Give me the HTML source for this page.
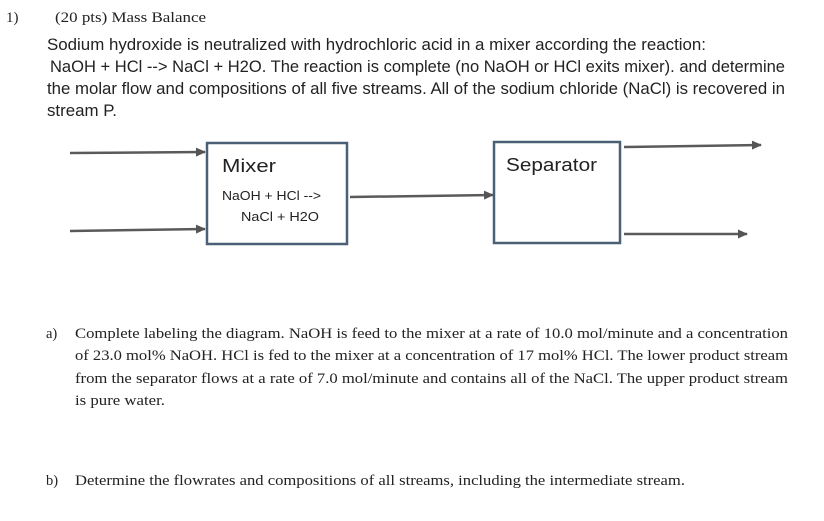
<!DOCTYPE html>
<html><head><meta charset="utf-8"><style>html,body{margin:0;padding:0;background:#fff}svg{display:block}</style></head><body>
<svg width="824" height="521" viewBox="0 0 824 521" xmlns="http://www.w3.org/2000/svg">
<defs><marker id="a" markerWidth="10" markerHeight="10" refX="9" refY="5" orient="auto" markerUnits="userSpaceOnUse"><path d="M0,0.5 L10,5 L0,9.5 z" fill="#555"/></marker></defs>
<g font-family="Liberation Serif, serif" font-size="15" fill="#222">
<text x="6" y="22">1)</text>
<text x="55" y="22" textLength="151" lengthAdjust="spacingAndGlyphs">(20 pts) Mass Balance</text>
</g>
<g font-family="Liberation Sans, sans-serif" font-size="16.5" fill="#222">
<text x="47" y="50" textLength="659" lengthAdjust="spacingAndGlyphs">Sodium hydroxide is neutralized with hydrochloric acid in a mixer according the reaction:</text>
<text x="50" y="72" textLength="735" lengthAdjust="spacingAndGlyphs">NaOH + HCl --&gt; NaCl + H2O. The reaction is complete (no NaOH or HCl exits mixer). and determine</text>
<text x="47" y="94" textLength="738" lengthAdjust="spacingAndGlyphs">the molar flow and compositions of all five streams. All of the sodium chloride (NaCl) is recovered in</text>
<text x="47" y="116" textLength="70" lengthAdjust="spacingAndGlyphs">stream P.</text>
</g>
<g stroke="#5a5a5a" stroke-width="2.5" fill="none">
<line x1="70" y1="153" x2="205" y2="152" marker-end="url(#a)"/>
<line x1="70" y1="231" x2="205" y2="229" marker-end="url(#a)"/>
<line x1="350" y1="197" x2="493" y2="195" marker-end="url(#a)"/>
<line x1="624" y1="147" x2="761" y2="145" marker-end="url(#a)"/>
<line x1="624" y1="234" x2="747" y2="234" marker-end="url(#a)"/>
</g>
<rect x="207" y="143" width="140" height="101" fill="#fff" stroke="#4a6076" stroke-width="2.5"/>
<rect x="494" y="142" width="126" height="101" fill="#fff" stroke="#4a6076" stroke-width="2.5"/>
<g font-family="Liberation Sans, sans-serif" fill="#222">
<text x="222" y="172" font-size="18" textLength="54" lengthAdjust="spacingAndGlyphs">Mixer</text>
<text x="222" y="200" font-size="12.5" textLength="99" lengthAdjust="spacingAndGlyphs">NaOH + HCl --&gt;</text>
<text x="241" y="221" font-size="12.5" textLength="78" lengthAdjust="spacingAndGlyphs">NaCl + H2O</text>
<text x="506" y="171" font-size="18" textLength="91" lengthAdjust="spacingAndGlyphs">Separator</text>
</g>
<g font-family="Liberation Serif, serif" font-size="14.5" fill="#222">
<text x="46" y="338">a)</text>
<text x="75" y="338" textLength="713" lengthAdjust="spacingAndGlyphs">Complete labeling the diagram. NaOH is feed to the mixer at a rate of 10.0 mol/minute and a concentration</text>
<text x="75" y="360" textLength="713" lengthAdjust="spacingAndGlyphs">of 23.0 mol% NaOH. HCl is fed to the mixer at a concentration of 17 mol% HCl. The lower product stream</text>
<text x="75" y="383" textLength="713" lengthAdjust="spacingAndGlyphs">from the separator flows at a rate of 7.0 mol/minute and contains all of the NaCl. The upper product stream</text>
<text x="75" y="405" textLength="90" lengthAdjust="spacingAndGlyphs">is pure water.</text>
<text x="46" y="485">b)</text>
<text x="75" y="485" textLength="610" lengthAdjust="spacingAndGlyphs">Determine the flowrates and compositions of all streams, including the intermediate stream.</text>
</g>
</svg>
</body></html>
